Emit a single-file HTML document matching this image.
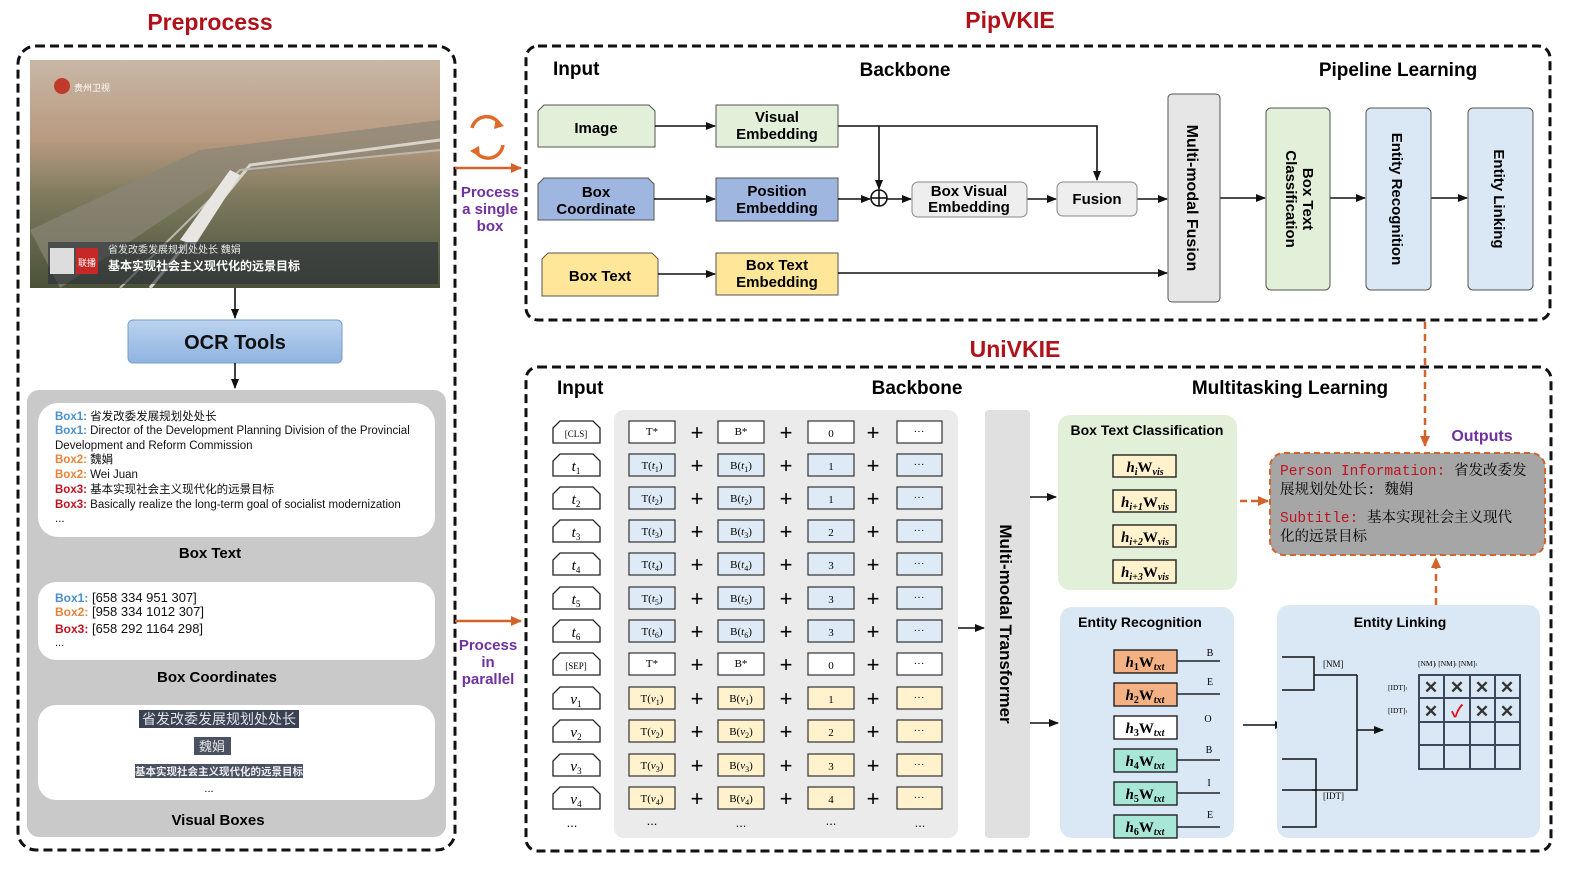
<!DOCTYPE html>
<html><head><meta charset="utf-8">
<style>
html,body{margin:0;padding:0;background:#fff;}
svg{display:block;font-family:"Liberation Sans","Noto Sans CJK SC",sans-serif;}
.b{font-weight:bold;}
.tk{fill:#fff;stroke:#222;stroke-width:1.3;}
.cw{fill:#fff;stroke:#333;stroke-width:1.2;}
.cb{fill:#deebf7;stroke:#333;stroke-width:1.2;}
.cy{fill:#fff2cc;stroke:#333;stroke-width:1.2;}
.ser{font-family:"Liberation Serif",serif;font-size:11px;}
.pl{font-size:22px;font-family:"Liberation Sans",sans-serif;}
</style></head>
<body>
<svg width="1581" height="870" viewBox="0 0 1581 870" xmlns="http://www.w3.org/2000/svg">
<defs>
<marker id="ar" markerWidth="10" markerHeight="10" refX="9" refY="5" orient="auto" markerUnits="userSpaceOnUse"><path d="M0,1 L10,5 L0,9 Z" fill="#111"/></marker>
<marker id="ao" markerWidth="12" markerHeight="12" refX="10" refY="6" orient="auto" markerUnits="userSpaceOnUse"><path d="M0,1 L11,6 L0,11 Z" fill="#d0642a"/></marker>
<linearGradient id="sky" x1="0" y1="0" x2="0" y2="1"><stop offset="0" stop-color="#c9b7a6"/><stop offset="0.35" stop-color="#b89a80"/><stop offset="0.6" stop-color="#7d7a5e"/><stop offset="1" stop-color="#4a5238"/></linearGradient>
<linearGradient id="ocr" x1="0" y1="0" x2="0" y2="1"><stop offset="0" stop-color="#bcd3ef"/><stop offset="1" stop-color="#8fb3e0"/></linearGradient>
</defs>

<!-- Titles -->
<text x="210" y="30" text-anchor="middle" class="b" font-size="23" fill="#b0121b">Preprocess</text>
<text x="1010" y="28" text-anchor="middle" class="b" font-size="23" fill="#b0121b">PipVKIE</text>
<text x="1015" y="357" text-anchor="middle" class="b" font-size="23" fill="#b0121b">UniVKIE</text>

<!-- Preprocess box -->
<rect x="18" y="46" width="437" height="804" rx="18" fill="none" stroke="#111" stroke-width="3" stroke-dasharray="9,5"/>
<rect x="30" y="60" width="410" height="228" fill="url(#sky)"/>
<path d="M30,230 L200,150 L440,120 L440,150 L230,175 L60,288 Z" fill="#8a8676" opacity="0.7"/>
<path d="M150,288 L250,165 L440,140" stroke="#d8d4cc" stroke-width="3" fill="none"/>
<path d="M120,288 L240,170 L440,150" stroke="#bdb8ae" stroke-width="2" fill="none"/>
<path d="M180,240 L230,170 L240,175 L195,245 Z" fill="#e8e6e2"/>
<circle cx="62" cy="86" r="8" fill="#c0392b"/>
<text x="74" y="91" font-size="9" fill="#fff">贵州卫视</text>
<rect x="48" y="242" width="390" height="42" fill="#2a2f3a" opacity="0.6"/>
<rect x="50" y="248" width="24" height="26" fill="#ddd"/>
<rect x="76" y="248" width="22" height="26" fill="#c62828"/>
<text x="78" y="266" font-size="9" fill="#fff">联播</text>
<text x="108" y="253" font-size="10" fill="#e8e8e8">省发改委发展规划处处长 魏娟</text>
<text x="108" y="270" font-size="12" class="b" fill="#fff">基本实现社会主义现代化的远景目标</text>
<line x1="235" y1="288" x2="235" y2="318" stroke="#111" stroke-width="1.6" marker-end="url(#ar)"/>
<rect x="128" y="320" width="214" height="43" rx="5" fill="url(#ocr)" stroke="#7a9ccc"/>
<text x="235" y="349" text-anchor="middle" class="b" font-size="20" fill="#111">OCR Tools</text>
<line x1="235" y1="363" x2="235" y2="388" stroke="#111" stroke-width="1.6" marker-end="url(#ar)"/>
<rect x="27" y="390" width="419" height="447" rx="12" fill="#c9c9c9"/>
<rect x="38" y="403" width="397" height="134" rx="20" fill="#fff"/>
<g font-size="11.5" fill="#111">
<text x="55" y="420"><tspan fill="#4a8fd0" class="b">Box1:</tspan> 省发改委发展规划处处长</text>
<text x="55" y="434"><tspan fill="#4a8fd0" class="b">Box1:</tspan> Director of the Development Planning Division of the Provincial</text>
<text x="55" y="449">Development and Reform Commission</text>
<text x="55" y="463"><tspan fill="#e8823a" class="b">Box2:</tspan> 魏娟</text>
<text x="55" y="478"><tspan fill="#e8823a" class="b">Box2:</tspan> Wei Juan</text>
<text x="55" y="493"><tspan fill="#c0121f" class="b">Box3:</tspan> 基本实现社会主义现代化的远景目标</text>
<text x="55" y="508"><tspan fill="#c0121f" class="b">Box3:</tspan> Basically realize the long-term goal of socialist modernization</text>
<text x="55" y="522">...</text>
</g>
<text x="210" y="558" text-anchor="middle" class="b" font-size="15">Box Text</text>
<rect x="38" y="582" width="397" height="78" rx="18" fill="#fff"/>
<g font-size="13" fill="#111">
<text x="55" y="602"><tspan fill="#4a8fd0" class="b" font-size="12">Box1:</tspan> [658 334 951 307]</text>
<text x="55" y="616"><tspan fill="#e8823a" class="b" font-size="12">Box2:</tspan> [958 334 1012 307]</text>
<text x="55" y="633"><tspan fill="#c0121f" class="b" font-size="12">Box3:</tspan> [658 292 1164 298]</text>
<text x="55" y="646" font-size="11">...</text>
</g>
<text x="217" y="682" text-anchor="middle" class="b" font-size="15">Box Coordinates</text>
<rect x="38" y="705" width="397" height="95" rx="18" fill="#fff"/>
<rect x="139" y="710" width="160" height="18" fill="#3a4252"/>
<text x="219" y="724" text-anchor="middle" font-size="14" fill="#dfe3ea">省发改委发展规划处处长</text>
<rect x="194" y="737" width="37" height="18" fill="#4a5262"/>
<text x="212" y="751" text-anchor="middle" font-size="13" fill="#e5e5e5">魏娟</text>
<rect x="135" y="764" width="168" height="14" fill="#4a5262"/>
<text x="219" y="775" text-anchor="middle" font-size="10.5" class="b" fill="#eee">基本实现社会主义现代化的远景目标</text>
<text x="209" y="792" text-anchor="middle" font-size="11">...</text>
<text x="218" y="825" text-anchor="middle" class="b" font-size="15">Visual Boxes</text>

<!-- middle arrows -->
<g fill="none" stroke="#e06a2a" stroke-width="3.5">
<path d="M472,128 A15,15 0 0,1 500,125"/>
<path d="M503,145 A15,15 0 0,1 476,152"/>
</g>
<path d="M496,118 L504,126 L494,129 Z" fill="#e06a2a"/>
<path d="M480,157 L470,151 L479,146 Z" fill="#e06a2a"/>
<line x1="455" y1="168" x2="521" y2="168" stroke="#d0642a" stroke-width="2.5" marker-end="url(#ao)"/>
<g class="b" font-size="15" fill="#7030a0" text-anchor="middle">
<text x="490" y="197">Process</text><text x="490" y="214">a single</text><text x="490" y="231">box</text>
<text x="488" y="650">Process</text><text x="488" y="667">in</text><text x="488" y="684">parallel</text>
</g>
<line x1="455" y1="621" x2="521" y2="621" stroke="#d0642a" stroke-width="2.5" marker-end="url(#ao)"/>

<!-- PipVKIE -->
<rect x="526" y="46" width="1024" height="274" rx="12" fill="none" stroke="#111" stroke-width="3" stroke-dasharray="9,5"/>
<text x="553" y="75" class="b" font-size="19">Input</text>
<text x="905" y="76" text-anchor="middle" class="b" font-size="19">Backbone</text>
<text x="1398" y="76" text-anchor="middle" class="b" font-size="19">Pipeline Learning</text>
<path d="M538,147 L538,111 L544,105 L649,105 L655,111 L655,147 Z" fill="#e2f0d9" stroke="#555"/>
<text x="596" y="133" text-anchor="middle" class="b" font-size="15">Image</text>
<path d="M538,220 L538,184 L544,178 L648,178 L654,184 L654,220 Z" fill="#9fb6e0" stroke="#555"/>
<text x="596" y="197" text-anchor="middle" class="b" font-size="15">Box</text>
<text x="596" y="214" text-anchor="middle" class="b" font-size="15">Coordinate</text>
<path d="M542,296 L542,259 L548,253 L652,253 L658,259 L658,296 Z" fill="#ffe699" stroke="#555"/>
<text x="600" y="281" text-anchor="middle" class="b" font-size="15">Box Text</text>
<rect x="716" y="105" width="122" height="42" fill="#e2f0d9" stroke="#555"/>
<text x="777" y="122" text-anchor="middle" class="b" font-size="15">Visual</text>
<text x="777" y="139" text-anchor="middle" class="b" font-size="15">Embedding</text>
<rect x="716" y="178" width="122" height="43" fill="#9fb6e0" stroke="#555"/>
<text x="777" y="196" text-anchor="middle" class="b" font-size="15">Position</text>
<text x="777" y="213" text-anchor="middle" class="b" font-size="15">Embedding</text>
<rect x="716" y="253" width="122" height="42" fill="#ffe699" stroke="#555"/>
<text x="777" y="270" text-anchor="middle" class="b" font-size="15">Box Text</text>
<text x="777" y="287" text-anchor="middle" class="b" font-size="15">Embedding</text>
<g stroke="#111" stroke-width="1.6" fill="none">
<line x1="655" y1="126" x2="715" y2="126" marker-end="url(#ar)"/>
<line x1="654" y1="199" x2="715" y2="199" marker-end="url(#ar)"/>
<line x1="658" y1="274" x2="715" y2="274" marker-end="url(#ar)"/>
<polyline points="838,126 1097,126 1097,180" marker-end="url(#ar)"/>
<line x1="879" y1="126" x2="879" y2="189" marker-end="url(#ar)"/>
<line x1="838" y1="199" x2="870" y2="199" marker-end="url(#ar)"/>
<circle cx="879" cy="198" r="8"/>
<line x1="871" y1="198" x2="887" y2="198"/><line x1="879" y1="190" x2="879" y2="206"/>
<line x1="887" y1="199" x2="911" y2="199" marker-end="url(#ar)"/>
<line x1="1027" y1="199" x2="1056" y2="199" marker-end="url(#ar)"/>
<line x1="1137" y1="199" x2="1167" y2="199" marker-end="url(#ar)"/>
<line x1="838" y1="273" x2="1167" y2="273" marker-end="url(#ar)"/>
<line x1="1220" y1="198" x2="1265" y2="198" marker-end="url(#ar)"/>
<line x1="1330" y1="198" x2="1365" y2="198" marker-end="url(#ar)"/>
<line x1="1431" y1="198" x2="1467" y2="198" marker-end="url(#ar)"/>
</g>
<rect x="912" y="182" width="115" height="35" rx="6" fill="#eeeeee" stroke="#888"/>
<text x="969" y="196" text-anchor="middle" class="b" font-size="15">Box Visual</text>
<text x="969" y="212" text-anchor="middle" class="b" font-size="15">Embedding</text>
<rect x="1057" y="182" width="80" height="34" rx="6" fill="#eeeeee" stroke="#888"/>
<text x="1097" y="204" text-anchor="middle" class="b" font-size="15">Fusion</text>
<rect x="1168" y="94" width="52" height="208" rx="4" fill="#e7e6e6" stroke="#555"/>
<text transform="translate(1187,198) rotate(90)" text-anchor="middle" class="b" font-size="16">Multi-modal Fusion</text>
<rect x="1266" y="108" width="64" height="182" rx="5" fill="#e2f0d9" stroke="#555"/>
<text transform="translate(1300,199) rotate(90)" text-anchor="middle" class="b" font-size="15"><tspan x="0" dy="-3">Box Text</tspan><tspan x="0" dy="17">Classification</tspan></text>
<rect x="1366" y="108" width="65" height="182" rx="5" fill="#dae8f5" stroke="#555"/>
<text transform="translate(1392,199) rotate(90)" text-anchor="middle" class="b" font-size="15">Entity Recognition</text>
<rect x="1468" y="108" width="65" height="182" rx="5" fill="#dae8f5" stroke="#555"/>
<text transform="translate(1494,199) rotate(90)" text-anchor="middle" class="b" font-size="15">Entity Linking</text>

<line x1="1425" y1="322" x2="1425" y2="446" stroke="#d0642a" stroke-width="2.5" stroke-dasharray="7,5" marker-end="url(#ao)"/>

<!-- UniVKIE -->
<rect x="526" y="367" width="1025" height="484" rx="12" fill="none" stroke="#111" stroke-width="3" stroke-dasharray="9,5"/>
<text x="557" y="394" class="b" font-size="19">Input</text>
<text x="917" y="394" text-anchor="middle" class="b" font-size="19">Backbone</text>
<text x="1290" y="394" text-anchor="middle" class="b" font-size="19">Multitasking Learning</text>
<rect x="614" y="410" width="344" height="428" rx="10" fill="#ebebeb"/>

<!-- token rows -->
<g class="ser" text-anchor="middle">
<!-- row template: token at 553, boxes 629,718,808,897 -->
<g transform="translate(0,432)">
<path class="tk" d="M553,11 L553,-4 L560,-11 L593,-11 L600,-4 L600,11 Z"/><text x="576" y="5" font-size="9">[CLS]</text>
<rect class="cw" x="629" y="-11" width="46" height="22"/><text x="652" y="3">T*</text>
<rect class="cw" x="718" y="-11" width="46" height="22"/><text x="741" y="3">B*</text>
<rect class="cw" x="808" y="-11" width="46" height="22"/><text x="831" y="5">0</text>
<rect class="cw" x="897" y="-11" width="45" height="22"/><text x="919" y="3">···</text>
<text class="pl" x="697" y="8">+</text><text class="pl" x="786" y="8">+</text><text class="pl" x="873" y="8">+</text>
</g>
<g transform="translate(0,465)">
<path class="tk" d="M553,11 L553,-4 L560,-11 L593,-11 L600,-4 L600,11 Z"/><text x="576" y="6" font-size="15" font-style="italic">t<tspan font-size="9" font-style="normal" dy="3">1</tspan></text>
<rect class="cb" x="629" y="-11" width="46" height="22"/><text x="652" y="4">T(<tspan font-style="italic">t</tspan><tspan font-size="8" dy="3">1</tspan><tspan dy="-3">)</tspan></text>
<rect class="cb" x="718" y="-11" width="46" height="22"/><text x="741" y="4">B(<tspan font-style="italic">t</tspan><tspan font-size="8" dy="3">1</tspan><tspan dy="-3">)</tspan></text>
<rect class="cb" x="808" y="-11" width="46" height="22"/><text x="831" y="5">1</text>
<rect class="cb" x="897" y="-11" width="45" height="22"/><text x="919" y="3">···</text>
<text class="pl" x="697" y="8">+</text><text class="pl" x="786" y="8">+</text><text class="pl" x="873" y="8">+</text>
</g>
<g transform="translate(0,498)">
<path class="tk" d="M553,11 L553,-4 L560,-11 L593,-11 L600,-4 L600,11 Z"/><text x="576" y="6" font-size="15" font-style="italic">t<tspan font-size="9" font-style="normal" dy="3">2</tspan></text>
<rect class="cb" x="629" y="-11" width="46" height="22"/><text x="652" y="4">T(<tspan font-style="italic">t</tspan><tspan font-size="8" dy="3">2</tspan><tspan dy="-3">)</tspan></text>
<rect class="cb" x="718" y="-11" width="46" height="22"/><text x="741" y="4">B(<tspan font-style="italic">t</tspan><tspan font-size="8" dy="3">2</tspan><tspan dy="-3">)</tspan></text>
<rect class="cb" x="808" y="-11" width="46" height="22"/><text x="831" y="5">1</text>
<rect class="cb" x="897" y="-11" width="45" height="22"/><text x="919" y="3">···</text>
<text class="pl" x="697" y="8">+</text><text class="pl" x="786" y="8">+</text><text class="pl" x="873" y="8">+</text>
</g>
<g transform="translate(0,531)">
<path class="tk" d="M553,11 L553,-4 L560,-11 L593,-11 L600,-4 L600,11 Z"/><text x="576" y="6" font-size="15" font-style="italic">t<tspan font-size="9" font-style="normal" dy="3">3</tspan></text>
<rect class="cb" x="629" y="-11" width="46" height="22"/><text x="652" y="4">T(<tspan font-style="italic">t</tspan><tspan font-size="8" dy="3">3</tspan><tspan dy="-3">)</tspan></text>
<rect class="cb" x="718" y="-11" width="46" height="22"/><text x="741" y="4">B(<tspan font-style="italic">t</tspan><tspan font-size="8" dy="3">3</tspan><tspan dy="-3">)</tspan></text>
<rect class="cb" x="808" y="-11" width="46" height="22"/><text x="831" y="5">2</text>
<rect class="cb" x="897" y="-11" width="45" height="22"/><text x="919" y="3">···</text>
<text class="pl" x="697" y="8">+</text><text class="pl" x="786" y="8">+</text><text class="pl" x="873" y="8">+</text>
</g>
<g transform="translate(0,564)">
<path class="tk" d="M553,11 L553,-4 L560,-11 L593,-11 L600,-4 L600,11 Z"/><text x="576" y="6" font-size="15" font-style="italic">t<tspan font-size="9" font-style="normal" dy="3">4</tspan></text>
<rect class="cb" x="629" y="-11" width="46" height="22"/><text x="652" y="4">T(<tspan font-style="italic">t</tspan><tspan font-size="8" dy="3">4</tspan><tspan dy="-3">)</tspan></text>
<rect class="cb" x="718" y="-11" width="46" height="22"/><text x="741" y="4">B(<tspan font-style="italic">t</tspan><tspan font-size="8" dy="3">4</tspan><tspan dy="-3">)</tspan></text>
<rect class="cb" x="808" y="-11" width="46" height="22"/><text x="831" y="5">3</text>
<rect class="cb" x="897" y="-11" width="45" height="22"/><text x="919" y="3">···</text>
<text class="pl" x="697" y="8">+</text><text class="pl" x="786" y="8">+</text><text class="pl" x="873" y="8">+</text>
</g>
<g transform="translate(0,598)">
<path class="tk" d="M553,11 L553,-4 L560,-11 L593,-11 L600,-4 L600,11 Z"/><text x="576" y="6" font-size="15" font-style="italic">t<tspan font-size="9" font-style="normal" dy="3">5</tspan></text>
<rect class="cb" x="629" y="-11" width="46" height="22"/><text x="652" y="4">T(<tspan font-style="italic">t</tspan><tspan font-size="8" dy="3">5</tspan><tspan dy="-3">)</tspan></text>
<rect class="cb" x="718" y="-11" width="46" height="22"/><text x="741" y="4">B(<tspan font-style="italic">t</tspan><tspan font-size="8" dy="3">5</tspan><tspan dy="-3">)</tspan></text>
<rect class="cb" x="808" y="-11" width="46" height="22"/><text x="831" y="5">3</text>
<rect class="cb" x="897" y="-11" width="45" height="22"/><text x="919" y="3">···</text>
<text class="pl" x="697" y="8">+</text><text class="pl" x="786" y="8">+</text><text class="pl" x="873" y="8">+</text>
</g>
<g transform="translate(0,631)">
<path class="tk" d="M553,11 L553,-4 L560,-11 L593,-11 L600,-4 L600,11 Z"/><text x="576" y="6" font-size="15" font-style="italic">t<tspan font-size="9" font-style="normal" dy="3">6</tspan></text>
<rect class="cb" x="629" y="-11" width="46" height="22"/><text x="652" y="4">T(<tspan font-style="italic">t</tspan><tspan font-size="8" dy="3">6</tspan><tspan dy="-3">)</tspan></text>
<rect class="cb" x="718" y="-11" width="46" height="22"/><text x="741" y="4">B(<tspan font-style="italic">t</tspan><tspan font-size="8" dy="3">6</tspan><tspan dy="-3">)</tspan></text>
<rect class="cb" x="808" y="-11" width="46" height="22"/><text x="831" y="5">3</text>
<rect class="cb" x="897" y="-11" width="45" height="22"/><text x="919" y="3">···</text>
<text class="pl" x="697" y="8">+</text><text class="pl" x="786" y="8">+</text><text class="pl" x="873" y="8">+</text>
</g>
<g transform="translate(0,664)">
<path class="tk" d="M553,11 L553,-4 L560,-11 L593,-11 L600,-4 L600,11 Z"/><text x="576" y="5" font-size="9">[SEP]</text>
<rect class="cw" x="629" y="-11" width="46" height="22"/><text x="652" y="3">T*</text>
<rect class="cw" x="718" y="-11" width="46" height="22"/><text x="741" y="3">B*</text>
<rect class="cw" x="808" y="-11" width="46" height="22"/><text x="831" y="5">0</text>
<rect class="cw" x="897" y="-11" width="45" height="22"/><text x="919" y="3">···</text>
<text class="pl" x="697" y="8">+</text><text class="pl" x="786" y="8">+</text><text class="pl" x="873" y="8">+</text>
</g>
<g transform="translate(0,698)">
<path class="tk" d="M553,11 L553,-4 L560,-11 L593,-11 L600,-4 L600,11 Z"/><text x="576" y="6" font-size="15" font-style="italic">v<tspan font-size="9" font-style="normal" dy="3">1</tspan></text>
<rect class="cy" x="629" y="-11" width="46" height="22"/><text x="652" y="4">T(<tspan font-style="italic">v</tspan><tspan font-size="8" dy="3">1</tspan><tspan dy="-3">)</tspan></text>
<rect class="cy" x="718" y="-11" width="46" height="22"/><text x="741" y="4">B(<tspan font-style="italic">v</tspan><tspan font-size="8" dy="3">1</tspan><tspan dy="-3">)</tspan></text>
<rect class="cy" x="808" y="-11" width="46" height="22"/><text x="831" y="5">1</text>
<rect class="cy" x="897" y="-11" width="45" height="22"/><text x="919" y="3">···</text>
<text class="pl" x="697" y="8">+</text><text class="pl" x="786" y="8">+</text><text class="pl" x="873" y="8">+</text>
</g>
<g transform="translate(0,731)">
<path class="tk" d="M553,11 L553,-4 L560,-11 L593,-11 L600,-4 L600,11 Z"/><text x="576" y="6" font-size="15" font-style="italic">v<tspan font-size="9" font-style="normal" dy="3">2</tspan></text>
<rect class="cy" x="629" y="-11" width="46" height="22"/><text x="652" y="4">T(<tspan font-style="italic">v</tspan><tspan font-size="8" dy="3">2</tspan><tspan dy="-3">)</tspan></text>
<rect class="cy" x="718" y="-11" width="46" height="22"/><text x="741" y="4">B(<tspan font-style="italic">v</tspan><tspan font-size="8" dy="3">2</tspan><tspan dy="-3">)</tspan></text>
<rect class="cy" x="808" y="-11" width="46" height="22"/><text x="831" y="5">2</text>
<rect class="cy" x="897" y="-11" width="45" height="22"/><text x="919" y="3">···</text>
<text class="pl" x="697" y="8">+</text><text class="pl" x="786" y="8">+</text><text class="pl" x="873" y="8">+</text>
</g>
<g transform="translate(0,765)">
<path class="tk" d="M553,11 L553,-4 L560,-11 L593,-11 L600,-4 L600,11 Z"/><text x="576" y="6" font-size="15" font-style="italic">v<tspan font-size="9" font-style="normal" dy="3">3</tspan></text>
<rect class="cy" x="629" y="-11" width="46" height="22"/><text x="652" y="4">T(<tspan font-style="italic">v</tspan><tspan font-size="8" dy="3">3</tspan><tspan dy="-3">)</tspan></text>
<rect class="cy" x="718" y="-11" width="46" height="22"/><text x="741" y="4">B(<tspan font-style="italic">v</tspan><tspan font-size="8" dy="3">3</tspan><tspan dy="-3">)</tspan></text>
<rect class="cy" x="808" y="-11" width="46" height="22"/><text x="831" y="5">3</text>
<rect class="cy" x="897" y="-11" width="45" height="22"/><text x="919" y="3">···</text>
<text class="pl" x="697" y="8">+</text><text class="pl" x="786" y="8">+</text><text class="pl" x="873" y="8">+</text>
</g>
<g transform="translate(0,798)">
<path class="tk" d="M553,11 L553,-4 L560,-11 L593,-11 L600,-4 L600,11 Z"/><text x="576" y="6" font-size="15" font-style="italic">v<tspan font-size="9" font-style="normal" dy="3">4</tspan></text>
<rect class="cy" x="629" y="-11" width="46" height="22"/><text x="652" y="4">T(<tspan font-style="italic">v</tspan><tspan font-size="8" dy="3">4</tspan><tspan dy="-3">)</tspan></text>
<rect class="cy" x="718" y="-11" width="46" height="22"/><text x="741" y="4">B(<tspan font-style="italic">v</tspan><tspan font-size="8" dy="3">4</tspan><tspan dy="-3">)</tspan></text>
<rect class="cy" x="808" y="-11" width="46" height="22"/><text x="831" y="5">4</text>
<rect class="cy" x="897" y="-11" width="45" height="22"/><text x="919" y="3">···</text>
<text class="pl" x="697" y="8">+</text><text class="pl" x="786" y="8">+</text><text class="pl" x="873" y="8">+</text>
</g>
<g font-size="13" font-family="Liberation Sans">
<text x="572" y="827">...</text><text x="652" y="825">...</text><text x="741" y="827">...</text><text x="831" y="825">...</text><text x="920" y="827">...</text>
</g>
</g>

<line x1="958" y1="628" x2="984" y2="628" stroke="#111" stroke-width="1.6" marker-end="url(#ar)"/>
<rect x="985" y="410" width="45" height="428" rx="4" fill="#e0e0e0"/>
<text transform="translate(1000,624) rotate(90)" text-anchor="middle" class="b" font-size="17">Multi-modal Transformer</text>
<line x1="1030" y1="497" x2="1056" y2="497" stroke="#111" stroke-width="1.6" marker-end="url(#ar)"/>
<line x1="1030" y1="723" x2="1058" y2="723" stroke="#111" stroke-width="1.6" marker-end="url(#ar)"/>

<!-- BTC -->
<rect x="1058" y="415" width="179" height="175" rx="12" fill="#e2f0d9"/>
<text x="1147" y="435" text-anchor="middle" class="b" font-size="14">Box Text Classification</text>
<g font-family="Liberation Serif,serif" font-weight="bold" font-size="15" text-anchor="middle">
<rect x="1113" y="455" width="63" height="22" fill="#fff2cc" stroke="#222" stroke-width="1.4"/>
<text x="1145" y="472"><tspan font-style="italic">h</tspan><tspan font-size="10" font-style="italic" dy="3">i</tspan><tspan dy="-3">W</tspan><tspan font-size="10" font-style="italic" dy="3">vis</tspan></text>
<rect x="1113" y="490" width="63" height="22" fill="#fff2cc" stroke="#222" stroke-width="1.4"/>
<text x="1145" y="507"><tspan font-style="italic">h</tspan><tspan font-size="10" font-style="italic" dy="3">i+1</tspan><tspan dy="-3">W</tspan><tspan font-size="10" font-style="italic" dy="3">vis</tspan></text>
<rect x="1113" y="525" width="63" height="22" fill="#fff2cc" stroke="#222" stroke-width="1.4"/>
<text x="1145" y="542"><tspan font-style="italic">h</tspan><tspan font-size="10" font-style="italic" dy="3">i+2</tspan><tspan dy="-3">W</tspan><tspan font-size="10" font-style="italic" dy="3">vis</tspan></text>
<rect x="1113" y="560" width="63" height="23" fill="#fff2cc" stroke="#222" stroke-width="1.4"/>
<text x="1145" y="577"><tspan font-style="italic">h</tspan><tspan font-size="10" font-style="italic" dy="3">i+3</tspan><tspan dy="-3">W</tspan><tspan font-size="10" font-style="italic" dy="3">vis</tspan></text>
</g>
<line x1="1240" y1="501" x2="1268" y2="501" stroke="#d0642a" stroke-width="2.5" stroke-dasharray="7,4" marker-end="url(#ao)"/>

<!-- Outputs -->
<text x="1482" y="441" text-anchor="middle" class="b" font-size="16" fill="#7030a0">Outputs</text>
<rect x="1270" y="453" width="275" height="102" rx="14" fill="#a6a6a6" stroke="#d0642a" stroke-width="2" stroke-dasharray="6,4"/>
<g font-size="14.5" font-family="Liberation Mono,'Noto Serif CJK SC',monospace">
<text x="1280" y="475"><tspan fill="#c0121f">Person Information:</tspan> 省发改委发</text>
<text x="1280" y="494">展规划处处长: 魏娟</text>
<text x="1280" y="522"><tspan fill="#c0121f">Subtitle:</tspan> 基本实现社会主义现代</text>
<text x="1280" y="541">化的远景目标</text>
</g>

<!-- ER -->
<rect x="1060" y="607" width="174" height="231" rx="12" fill="#dae8f5"/>
<text x="1140" y="627" text-anchor="middle" class="b" font-size="14">Entity Recognition</text>
<g stroke="#222" stroke-width="1.4">
<rect x="1114" y="650" width="63" height="23" fill="#f4b183"/>
<rect x="1114" y="683" width="63" height="23" fill="#f4b183"/>
<rect x="1114" y="716" width="63" height="23" fill="#fff"/>
<rect x="1114" y="749" width="63" height="23" fill="#a8e6d8"/>
<rect x="1114" y="782" width="63" height="23" fill="#a8e6d8"/>
<rect x="1114" y="815" width="63" height="23" fill="#a8e6d8"/>
<line x1="1177" y1="661" x2="1220" y2="661"/>
<line x1="1177" y1="694" x2="1220" y2="694"/>
<line x1="1177" y1="760" x2="1220" y2="760"/>
<line x1="1177" y1="793" x2="1220" y2="793"/>
<line x1="1177" y1="827" x2="1220" y2="827"/>
</g>
<g font-family="Liberation Serif,serif" font-weight="bold" font-size="15" text-anchor="middle">
<text x="1145" y="667"><tspan font-style="italic">h</tspan><tspan font-size="10" dy="3">1</tspan><tspan dy="-3">W</tspan><tspan font-size="10" font-style="italic" dy="3">txt</tspan></text>
<text x="1145" y="700"><tspan font-style="italic">h</tspan><tspan font-size="10" dy="3">2</tspan><tspan dy="-3">W</tspan><tspan font-size="10" font-style="italic" dy="3">txt</tspan></text>
<text x="1145" y="733"><tspan font-style="italic">h</tspan><tspan font-size="10" dy="3">3</tspan><tspan dy="-3">W</tspan><tspan font-size="10" font-style="italic" dy="3">txt</tspan></text>
<text x="1145" y="766"><tspan font-style="italic">h</tspan><tspan font-size="10" dy="3">4</tspan><tspan dy="-3">W</tspan><tspan font-size="10" font-style="italic" dy="3">txt</tspan></text>
<text x="1145" y="799"><tspan font-style="italic">h</tspan><tspan font-size="10" dy="3">5</tspan><tspan dy="-3">W</tspan><tspan font-size="10" font-style="italic" dy="3">txt</tspan></text>
<text x="1145" y="832"><tspan font-style="italic">h</tspan><tspan font-size="10" dy="3">6</tspan><tspan dy="-3">W</tspan><tspan font-size="10" font-style="italic" dy="3">txt</tspan></text>
</g>
<g font-family="Liberation Serif,serif" font-size="10" text-anchor="middle">
<text x="1210" y="656">B</text><text x="1210" y="685">E</text><text x="1208" y="722">O</text>
<text x="1209" y="753">B</text><text x="1209" y="786">I</text><text x="1210" y="818">E</text>
</g>
<line x1="1243" y1="725" x2="1284" y2="725" stroke="#111" stroke-width="1.6" marker-end="url(#ar)"/>

<!-- EL -->
<rect x="1277" y="605" width="263" height="233" rx="12" fill="#dae8f5"/>
<text x="1400" y="627" text-anchor="middle" class="b" font-size="14">Entity Linking</text>
<g stroke="#111" stroke-width="1.5" fill="none">
<polyline points="1282,657 1314,657 1314,690 1282,690"/>
<line x1="1314" y1="675" x2="1357" y2="675"/>
<polyline points="1357,675 1357,790 1312,790"/>
<polyline points="1282,759 1316,759 1316,827 1282,827"/>
<line x1="1282" y1="790" x2="1316" y2="790"/>
<line x1="1357" y1="730" x2="1383" y2="730" marker-end="url(#ar)"/>
</g>
<g font-family="Liberation Serif,serif" font-size="9">
<text x="1323" y="667">[NM]</text>
<text x="1323" y="799">[IDT]</text>
<text x="1418" y="666" font-size="7.5">[NM]ₗ [NM]ₗ [NM]ₗ</text>
<text x="1388" y="690" font-size="7.5">[IDT]ₗ</text>
<text x="1388" y="713" font-size="7.5">[IDT]ₗ</text>
</g>
<g stroke="#3a4a5a" stroke-width="2" fill="none">
<rect x="1419" y="675" width="101" height="94"/>
<line x1="1444" y1="675" x2="1444" y2="769"/><line x1="1470" y1="675" x2="1470" y2="769"/><line x1="1495" y1="675" x2="1495" y2="769"/>
<line x1="1419" y1="698" x2="1520" y2="698"/><line x1="1419" y1="722" x2="1520" y2="722"/><line x1="1419" y1="745" x2="1520" y2="745"/>
</g>
<g font-size="17" class="b" fill="#333" text-anchor="middle">
<text x="1431" y="693">✕</text><text x="1457" y="693">✕</text><text x="1482" y="693">✕</text><text x="1507" y="693">✕</text>
<text x="1431" y="717">✕</text><text x="1482" y="717">✕</text><text x="1507" y="717">✕</text>
<text x="1457" y="717" fill="#e0101a">✓</text>
</g>
<line x1="1436" y1="605" x2="1436" y2="558" stroke="#d0642a" stroke-width="2.5" stroke-dasharray="7,5" marker-end="url(#ao)"/>
</svg>
</body></html>
